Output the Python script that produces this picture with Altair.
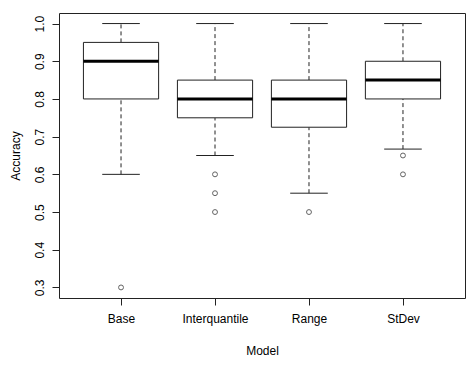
import altair as alt
import pandas as pd

# ---- data ----
models = ["Base", "Interquantile", "Range", "StDev"]
lower_whisker = [0.60, 0.65, 0.55, 0.667]
q1 = [0.80, 0.75, 0.725, 0.80]
median = [0.90, 0.80, 0.80, 0.85]
q3 = [0.95, 0.85, 0.85, 0.90]
upper_whisker = [1.0, 1.0, 1.0, 1.0]
outlier_models = ["Base", "Interquantile", "Interquantile", "Interquantile", "Range", "StDev", "StDev"]
outlier_values = [0.30, 0.60, 0.55, 0.50, 0.50, 0.65, 0.60]
y_ticks = [0.3, 0.4, 0.5, 0.6, 0.7, 0.8, 0.9, 1.0]

box_df = pd.DataFrame({
    "model": models,
    "pos": [i + 1 for i in range(len(models))],
    "lower": lower_whisker,
    "q1": q1,
    "median": median,
    "q3": q3,
    "upper": upper_whisker,
})
out_df = pd.DataFrame({
    "model": outlier_models,
    "pos": [models.index(m) + 1 for m in outlier_models],
    "value": outlier_values,
})

FONT = "Liberation Sans"
INK = "#222222"
label_expr = "[" + ",".join(f"'{m}'" for m in models) + "][datum.value - 1]"

xscale = alt.Scale(domain=[0.34, 4.66], nice=False, zero=False)
yscale = alt.Scale(domain=[0.272, 1.028], nice=False, zero=False)
xaxis = alt.Axis(values=[1, 2, 3, 4], labelExpr=label_expr, title="Model",
                 labelPadding=8, titleY=52, titleBaseline="middle")
yaxis = alt.Axis(values=y_ticks, format=".1f", title="Accuracy",
                 labelAngle=270, labelAlign="center", labelBaseline="bottom",
                 labelPadding=6, titleX=-44, titleBaseline="middle", titleAngle=270)

base = alt.Chart(box_df).transform_calculate(
    xl="datum.pos - 0.4", xr="datum.pos + 0.4",
    cl="datum.pos - 0.2", cr="datum.pos + 0.2",
)

whisk_hi = base.mark_rule(strokeDash=[4, 3], color=INK, strokeWidth=1).encode(
    x=alt.X("pos:Q", scale=xscale, axis=xaxis),
    y=alt.Y("q3:Q", scale=yscale, axis=yaxis), y2="upper:Q")
whisk_lo = base.mark_rule(strokeDash=[4, 3], color=INK, strokeWidth=1).encode(
    x=alt.X("pos:Q", scale=xscale, axis=xaxis),
    y=alt.Y("lower:Q", scale=yscale, axis=yaxis), y2="q1:Q")
cap_hi = base.mark_rule(color=INK, strokeWidth=1).encode(
    x=alt.X("cl:Q", scale=xscale, axis=xaxis), x2="cr:Q",
    y=alt.Y("upper:Q", scale=yscale, axis=yaxis))
cap_lo = base.mark_rule(color=INK, strokeWidth=1).encode(
    x=alt.X("cl:Q", scale=xscale, axis=xaxis), x2="cr:Q",
    y=alt.Y("lower:Q", scale=yscale, axis=yaxis))
box = base.mark_rect(fill="white", stroke=INK, strokeWidth=1).encode(
    x=alt.X("xl:Q", scale=xscale, axis=xaxis), x2="xr:Q",
    y=alt.Y("q1:Q", scale=yscale, axis=yaxis), y2="q3:Q")
med = base.mark_rule(color="black", strokeWidth=3).encode(
    x=alt.X("xl:Q", scale=xscale, axis=xaxis), x2="xr:Q",
    y=alt.Y("median:Q", scale=yscale, axis=yaxis))
outl = alt.Chart(out_df).mark_point(shape="circle", filled=False, size=24,
                                    color=INK, strokeWidth=1).encode(
    x=alt.X("pos:Q", scale=xscale, axis=xaxis),
    y=alt.Y("value:Q", scale=yscale, axis=yaxis))

chart = alt.layer(whisk_hi, whisk_lo, cap_hi, cap_lo, box, med, outl).properties(
    width=406, height=285,
    autosize=alt.AutoSizeParams(type="none"),
    padding={"left": 51, "top": 5, "right": 1, "bottom": 60},
    background="white",
).configure_view(
    stroke=INK, strokeWidth=1
).configure_axis(
    domain=False, grid=False, tickColor=INK, tickSize=7, tickWidth=1,
    labelColor="black", titleColor="black", labelFont=FONT, titleFont=FONT,
    labelFontSize=12, titleFontSize=12, titleFontWeight="normal",
)

chart.save("out.html", embed_options={"renderer": "svg", "actions": False})
